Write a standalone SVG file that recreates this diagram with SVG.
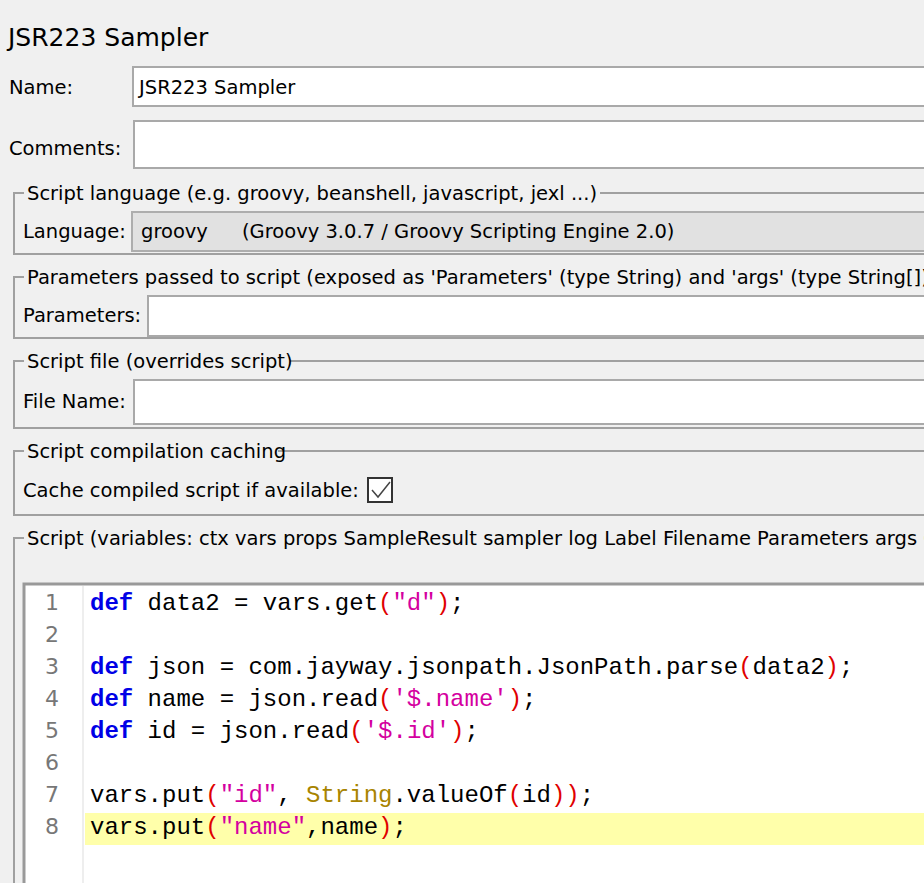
<svg xmlns="http://www.w3.org/2000/svg" width="924" height="883" viewBox="0 0 924 883">
<style>
.ui{font-family:"DejaVu Sans","Noto Sans",sans-serif;font-size:19.5px;fill:#000}
.fld{fill:#fff;stroke:#a9a9a9;stroke-width:2}
.grp{fill:none;stroke:#a0a0a0;stroke-width:2}
.cd{font-family:"Liberation Mono",monospace;font-size:24px;fill:#000}
.ln{font-family:"DejaVu Sans","Noto Sans",sans-serif;font-size:22px;fill:#777;text-anchor:middle}
.k{fill:#0000e6;font-weight:bold}.s{fill:#d400a0}.p{fill:#e00000}.t{fill:#a88400}
</style>
<rect width="924" height="883" fill="#f0f0f0"/>
<g id="title"><text x="8" y="46" class="ui" style="font-size:25px">JSR223 Sampler</text></g>
<g id="name"><text x="9" y="94" class="ui">Name:</text><rect x="133" y="67" width="800" height="39" class="fld"/><text x="139" y="94" class="ui">JSR223 Sampler</text></g>
<g id="comments"><text x="9" y="155" class="ui">Comments:</text><rect x="134" y="121" width="800" height="47" class="fld"/></g>
<g id="lang"><path d="M24 193H14V254H930" class="grp"/><path d="M600 193H930" class="grp"/><text x="27" y="200" class="ui">Script language (e.g. groovy, beanshell, javascript, jexl ...)</text>
<text x="23" y="238" class="ui">Language:</text><rect x="132" y="212" width="800" height="39" fill="#e1e1e1" stroke="#adadad" stroke-width="2"/><text x="141" y="238" class="ui">groovy</text><text x="242" y="238" class="ui">(Groovy 3.0.7 / Groovy Scripting Engine 2.0)</text></g>
<g id="params"><path d="M24 277H14V338H930" class="grp"/><text x="27" y="284" class="ui">Parameters passed to script (exposed as 'Parameters' (type String) and 'args' (type String[])</text>
<text x="23" y="322" class="ui">Parameters:</text><rect x="148" y="296" width="790" height="40" class="fld"/></g>
<g id="file"><path d="M24 361H14V428H930" class="grp"/><path d="M290 361H930" class="grp"/><text x="27" y="368" class="ui">Script file (overrides script)</text>
<text x="23" y="408" class="ui">File Name:</text><rect x="134" y="380" width="800" height="44" class="fld"/></g>
<g id="cache"><path d="M24 451H14V515H930" class="grp"/><path d="M278 451H930" class="grp"/><text x="27" y="458" class="ui">Script compilation caching</text>
<text x="23" y="497" class="ui">Cache compiled script if available:</text><rect x="368" y="478" width="24" height="24" fill="#fff" stroke="#333" stroke-width="2"/><path d="M372 490L378 497L390 482" fill="none" stroke="#444" stroke-width="1.5"/></g>
<g id="script"><path d="M24 538H14V883" class="grp"/><text x="27" y="545" class="ui">Script (variables: ctx vars props SampleResult sampler log Label Filename Parameters args OUT)</text>
<rect x="24" y="584" width="920" height="310" fill="#fff" stroke="#999" stroke-width="3"/>
<line x1="83" y1="586" x2="83" y2="883" stroke="#ddd" stroke-width="1"/>
<rect x="85" y="813" width="839" height="32" fill="#ffffaa"/>
<text class="ln" x="52" y="610">1</text><text class="ln" x="52" y="642">2</text><text class="ln" x="52" y="674">3</text><text class="ln" x="52" y="706">4</text><text class="ln" x="52" y="738">5</text><text class="ln" x="52" y="770">6</text><text class="ln" x="52" y="802">7</text><text class="ln" x="52" y="834">8</text>
<text class="cd" x="90" y="610" xml:space="preserve"><tspan class="k">def</tspan> data2 = vars.get<tspan class="p">(</tspan><tspan class="s">"d"</tspan><tspan class="p">)</tspan>;</text>
<text class="cd" x="90" y="674" xml:space="preserve"><tspan class="k">def</tspan> json = com.jayway.jsonpath.JsonPath.parse<tspan class="p">(</tspan>data2<tspan class="p">)</tspan>;</text>
<text class="cd" x="90" y="706" xml:space="preserve"><tspan class="k">def</tspan> name = json.read<tspan class="p">(</tspan><tspan class="s">'$.name'</tspan><tspan class="p">)</tspan>;</text>
<text class="cd" x="90" y="738" xml:space="preserve"><tspan class="k">def</tspan> id = json.read<tspan class="p">(</tspan><tspan class="s">'$.id'</tspan><tspan class="p">)</tspan>;</text>
<text class="cd" x="90" y="802" xml:space="preserve">vars.put<tspan class="p">(</tspan><tspan class="s">"id"</tspan>, <tspan class="t">String</tspan>.valueOf<tspan class="p">(</tspan>id<tspan class="p">))</tspan>;</text>
<text class="cd" x="90" y="834" xml:space="preserve">vars.put<tspan class="p">(</tspan><tspan class="s">"name"</tspan>,name<tspan class="p">)</tspan>;</text>
</g>
</svg>
